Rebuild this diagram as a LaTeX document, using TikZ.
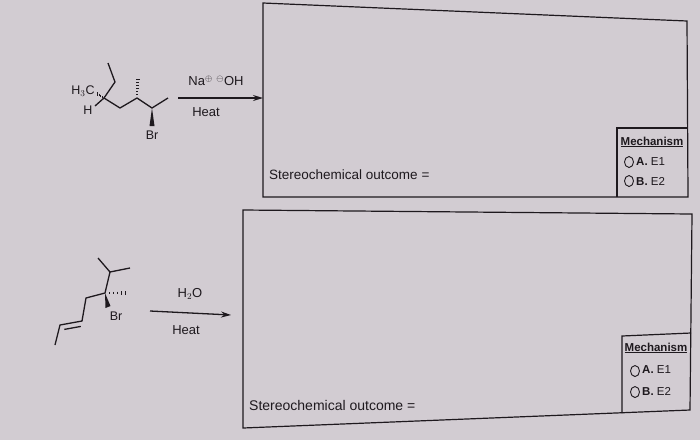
\documentclass[tikz,border=0pt]{standalone}
\usepackage{fontspec}
\setmainfont{Liberation Sans}
\usetikzlibrary{arrows.meta,calc}
\definecolor{paper}{RGB}{210,204,210}
\definecolor{ink}{RGB}{30,25,30}
\tikzset{bond/.style={ink,line width=1.3pt,line join=round},
 lbl/.style={inner sep=0pt,text=ink,font=\fontsize{12.5}{14}\selectfont},
 box/.style={ink,line width=1.2pt},
 rxn/.style={ink,line width=1.3pt,-{Stealth[length=10pt,width=6pt]}}}
\begin{document}
\begin{tikzpicture}[x=1pt,y=-1pt]
\fill[paper] (0,0) rectangle (700,440);
\useasboundingbox (0,0) rectangle (700,440);
% top molecule
\coordinate (a1) at (104,98); \coordinate (a2) at (120,108); \coordinate (a3) at (137,98);
\coordinate (a4) at (152,108); \coordinate (a5) at (168,98); \coordinate (e1) at (115,82);
\coordinate (e2) at (108,63); \coordinate (m3) at (138,77); \coordinate (br1) at (152,126);
\coordinate (hc) at (96,93);
\draw[bond] (e2)--(e1)--(a1)--(a2)--(a3)--(a4)--(a5);
\draw[bond] (a1)--(95,106);
\foreach \t in {0.15,0.3,0.45,0.6,0.75,0.9}
  \draw[ink,line width=0.8pt] ($(a3)!\t!(m3)+(-1.5*\t-0.5,0)$)--($(a3)!\t!(m3)+(1.5*\t+0.5,0)$);
\foreach \t in {0.2,0.4,0.6,0.8}
  \draw[ink,line width=0.8pt] ($(a1)!\t!(hc)+(0,-1.5*\t-0.5)$)--($(a1)!\t!(hc)+(0,1.5*\t+0.5)$);
\fill[ink] (a4) -- ($(br1)+(-2.5,0)$) -- ($(br1)+(2.5,0)$) -- cycle;
\node[lbl] (h3c) at (83,91) {H$_3$C};
\node[lbl] (h1) at (88,110) {H};
\node[lbl] (br) at (152,135) {Br};
\coordinate (ar1s) at (178,98); \coordinate (ar1e) at (263,98);
\draw[rxn] (ar1s)--(ar1e);
\node[lbl,font=\fontsize{13}{15}\selectfont] (naoh) at (216,81) {Na$^{\oplus}$ $^{\ominus}$OH};
\node[lbl,font=\fontsize{13}{15}\selectfont] (heat1) at (206,112) {Heat};
% top box
\draw[box] (263,3)--(687,21)--(688,197)--(263,197)--cycle;
\draw[box] (617,197)--(617,128)--(688,128);
\node[lbl,font=\bfseries\fontsize{11.5}{13}\selectfont] (mech1) at (652,142) {\underline{Mechanism}};
\node[lbl,font=\fontsize{11.5}{13}\selectfont,anchor=west] (a1o) at (636,162) {\textbf{A.} E1};
\node[lbl,font=\fontsize{11.5}{13}\selectfont,anchor=west] (b1o) at (636,181) {\textbf{B.} E2};
\draw[ink,line width=0.9pt] (629,162) ellipse (4.5 and 5.5);
\draw[ink,line width=0.9pt] (629,181) ellipse (4.5 and 5.5);
\node[lbl,font=\fontsize{13.5}{15}\selectfont,anchor=west] (so1) at (269,175) {Stereochemical outcome =};
% bottom molecule
\coordinate (b0) at (55,345); \coordinate (b1) at (60,325); \coordinate (b2) at (82,321);
\coordinate (b3) at (86,298); \coordinate (q) at (105,293); \coordinate (ip) at (110,272);
\coordinate (ip1) at (98,258); \coordinate (ip2) at (130,268); \coordinate (hs) at (125,293);
\coordinate (br2) at (108,307);
\draw[bond] (b0)--(b1)--(b2)--(b3)--(q)--(ip)--(ip1); \draw[bond] (ip)--(ip2);
\draw[bond] ($(b1)!0.15!(b2)+(1,5)$)--($(b1)!0.9!(b2)+(1,5)$);
\foreach \t in {0.2,0.4,0.6,0.8,1.0}
  \draw[ink,line width=0.8pt] ($(q)!\t!(hs)+(0,-1.5*\t-0.5)$)--($(q)!\t!(hs)+(0,1.5*\t+0.5)$);
\fill[ink] (q) -- ($(br2)+(-2.5,1)$) -- ($(br2)+(2.5,-1)$) -- cycle;
\node[lbl] (brb) at (116,316) {Br};
\coordinate (ar2s) at (150,311); \coordinate (ar2e) at (231,315);
\draw[rxn] (ar2s)--(ar2e);
\node[lbl,font=\fontsize{13}{15}\selectfont] (h2o) at (190,294) {H$_2$O};
\node[lbl,font=\fontsize{13}{15}\selectfont] (heat2) at (186,330) {Heat};
% bottom box
\draw[box] (243,210)--(692,214)--(690,410)--(243,428)--cycle;
\draw[box] (622,413)--(622,336)--(691,333);
\node[lbl,font=\bfseries\fontsize{11.5}{13}\selectfont] (mech2) at (656,348) {\underline{Mechanism}};
\node[lbl,font=\fontsize{11.5}{13}\selectfont,anchor=west] (a2o) at (642,370) {\textbf{A.} E1};
\node[lbl,font=\fontsize{11.5}{13}\selectfont,anchor=west] (b2o) at (642,391) {\textbf{B.} E2};
\draw[ink,line width=0.9pt] (635,371) ellipse (4.5 and 5.5);
\draw[ink,line width=0.9pt] (635,392) ellipse (4.5 and 5.5);
\node[lbl,font=\fontsize{14}{16}\selectfont,anchor=west] (so2) at (249,405) {Stereochemical outcome =};
\end{tikzpicture}
\end{document}
